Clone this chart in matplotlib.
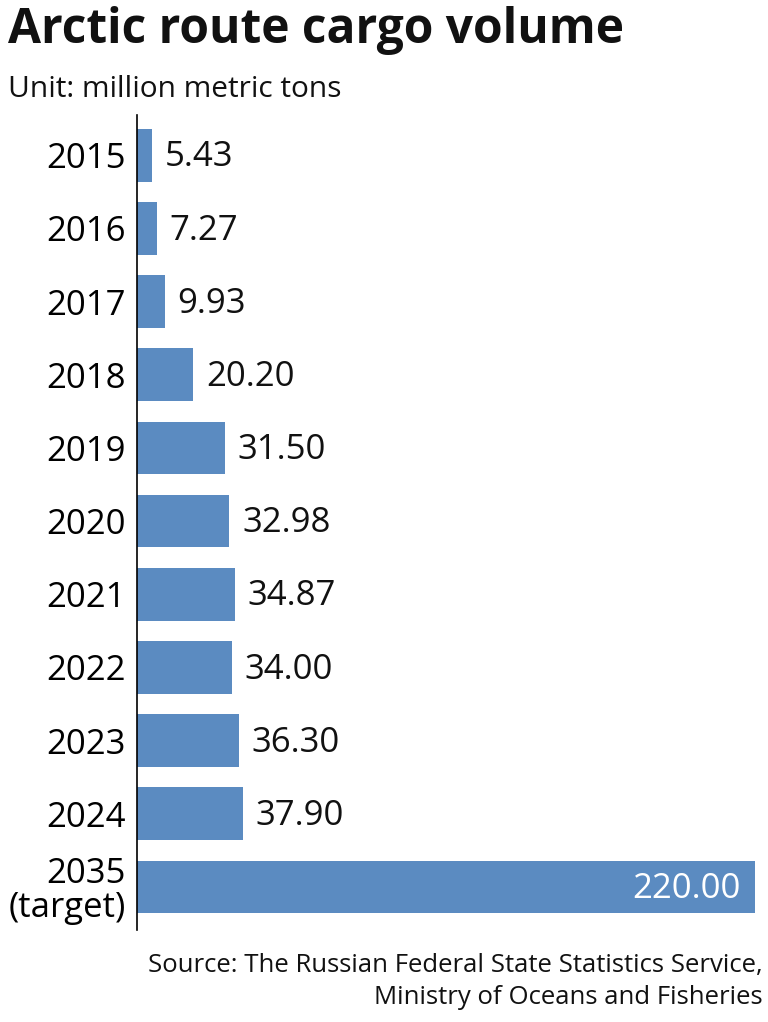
import matplotlib
matplotlib.use("Agg")
from matplotlib import pyplot as plt
from matplotlib import font_manager

years = ['2015', '2016', '2017', '2018', '2019', '2020', '2021', '2022', '2023', '2024', '2035\n(target)']
volumes = [5.43, 7.27, 9.93, 20.20, 31.50, 32.98, 34.87, 34.00, 36.30, 37.90, 220.00]
value_labels = ['5.43', '7.27', '9.93', '20.20', '31.50', '32.98', '34.87', '34.00', '36.30', '37.90', '220.00']

names = {f.name for f in font_manager.fontManager.ttflist}
family = 'Liberation Sans Narrow' if 'Liberation Sans Narrow' in names else 'Open Sans'
plt.rcParams['font.family'] = [family, 'DejaVu Sans']

bar_color = '#5b8bc1'

fig = plt.figure(figsize=(7.68, 10.22), dpi=100)
ax = fig.add_axes([0.178, 0.090, 0.805, 0.7975])

pos = list(range(len(years)))
ax.barh(pos, volumes, height=0.72, color=bar_color)
ax.set_xlim(0, 220)
ax.set_ylim(len(years) - 1 + 0.59, -0.55)

ax.set_yticks(pos)
ax.set_yticklabels(years, fontsize=25, linespacing=1.0)
ax.tick_params(axis='y', length=0, pad=8)
ax.set_xticks([])
for s in ['top', 'right', 'bottom']:
    ax.spines[s].set_visible(False)
ax.spines['left'].set_linewidth(1.2)

for i, (v, lab) in enumerate(zip(volumes, value_labels)):
    if v > 100:
        ax.text(v - 5, i + 0.03, lab, va='center', ha='right', fontsize=25, color='white')
    else:
        ax.text(v + 4.5, i + 0.03, lab, va='center', ha='left', fontsize=25, color='#111111')

fig.text(0.010, 0.970, 'Arctic route cargo volume', fontsize=34.5, fontweight='bold',
         ha='left', va='center', color='#111111')
fig.text(0.010, 0.912, 'Unit: million metric tons', fontsize=21.5, ha='left', va='center',
         color='#111111')
fig.text(0.993, 0.055, 'Source: The Russian Federal State Statistics Service,', fontsize=18.5,
         ha='right', va='center', color='#111111')
fig.text(0.993, 0.024, 'Ministry of Oceans and Fisheries', fontsize=18.5,
         ha='right', va='center', color='#111111')

fig.savefig('out.png', dpi=100)
